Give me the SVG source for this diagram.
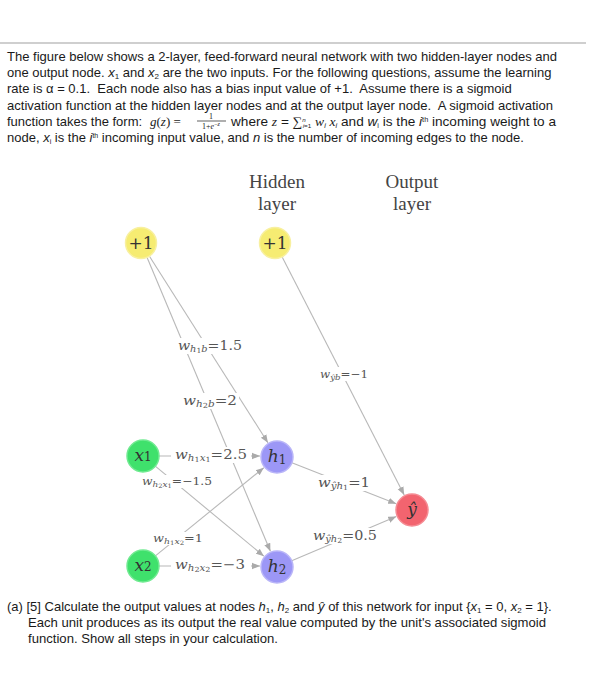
<svg xmlns="http://www.w3.org/2000/svg" width="614" height="700" viewBox="0 0 614 700">
<style>
.body{font-family:"Liberation Sans",Arial,sans-serif;font-size:13px;fill:#1a1a1a;white-space:pre}
.it{font-style:italic}
.sub{font-size:8px}
.ttl{font-family:"Liberation Serif","DejaVu Serif",serif;font-size:19px;fill:#444;text-anchor:middle}
.edge{stroke:#b8b8b8;stroke-width:1.1;fill:none;marker-end:url(#arr)}
.lbl{font-family:"DejaVu Serif","Liberation Serif",serif;font-size:13px;fill:#555;text-anchor:middle}
.lbs{font-family:"DejaVu Serif","Liberation Serif",serif;font-size:11px;fill:#555;text-anchor:middle}
.bg{fill:#ffffff}
.nt{font-family:"DejaVu Serif","Liberation Serif",serif;font-size:17px;fill:#333;text-anchor:middle}
.bias{fill:#f6ec72;stroke:#f8f0a0;stroke-width:1.5}
.inp{fill:#3fe16c;stroke:#70ea91;stroke-width:1.5}
.hid{fill:#9c97f6;stroke:#b9b5f8;stroke-width:1.5}
.out{fill:#f2646f;stroke:#f58b93;stroke-width:1.5}
</style>
<defs>
<marker id="arr" markerUnits="userSpaceOnUse" markerWidth="8" markerHeight="8" viewBox="0 0 8 8" refX="8" refY="4" orient="auto">
<path d="M0,0.8 L8,4 L0,7.2 Z" fill="#aaaaaa"/>
</marker>
</defs>
<rect width="614" height="700" fill="#ffffff"/>
<line x1="0" y1="43" x2="586" y2="43" stroke="#cfcfcf" stroke-width="2"/>

<g id="intro-text">
<text class="body" x="7" y="61" textLength="550" lengthAdjust="spacingAndGlyphs">The figure below shows a 2-layer, feed-forward neural network with two hidden-layer nodes and</text>
<text class="body" x="7" y="77">one output node. <tspan class="it">x</tspan><tspan class="sub" dy="2">1</tspan><tspan dy="-2"> and </tspan><tspan class="it">x</tspan><tspan class="sub" dy="2">2</tspan><tspan dy="-2"> are the two inputs. For the following questions, assume the learning</tspan></text>
<text class="body" x="7" y="93">rate is α = 0.1.  Each node also has a bias input value of +1.  Assume there is a sigmoid</text>
<text class="body" x="7" y="110" textLength="546" lengthAdjust="spacingAndGlyphs">activation function at the hidden layer nodes and at the output layer node.  A sigmoid activation</text>
<text class="body" x="7" y="126">function takes the form: </text>
<text x="150" y="126" font-family="Liberation Serif,serif" font-size="13" font-style="italic" fill="#1a1a1a">g<tspan font-style="normal">(</tspan>z<tspan font-style="normal">) =</tspan></text>
<text x="211" y="119" font-family="Liberation Serif,serif" font-size="8" fill="#1a1a1a" text-anchor="middle">1</text>
<line x1="197" y1="121" x2="226" y2="121" stroke="#1a1a1a" stroke-width="0.7"/>
<text x="211" y="129" font-family="Liberation Serif,serif" font-size="8" fill="#1a1a1a" text-anchor="middle">1+<tspan font-style="italic">e</tspan><tspan font-size="6" dy="-3">−<tspan font-style="italic">z</tspan></tspan></text>
<text class="body" x="231" y="126" textLength="325" lengthAdjust="spacingAndGlyphs">where <tspan font-family="Liberation Serif,serif" font-style="italic">z</tspan> = <tspan font-family="Liberation Serif,serif">∑</tspan><tspan font-size="6" dy="-4" font-style="italic">n</tspan><tspan font-size="6" dx="-3" dy="6"><tspan font-style="italic">i</tspan>=1</tspan><tspan dy="-2"> </tspan><tspan font-family="Liberation Serif,serif" font-style="italic">w</tspan><tspan font-size="7" dy="2" font-style="italic">i</tspan><tspan dy="-2"> </tspan><tspan font-family="Liberation Serif,serif" font-style="italic">x</tspan><tspan font-size="7" dy="2" font-style="italic">i</tspan><tspan dy="-2"> and </tspan><tspan class="it">w</tspan><tspan font-size="7" dy="2">i</tspan><tspan dy="-2"> is the </tspan><tspan class="it">i</tspan><tspan font-size="7" dy="-4">th</tspan><tspan dy="4"> incoming weight to a</tspan></text>
<text class="body" x="7" y="142">node, <tspan class="it">x</tspan><tspan font-size="7" dy="2">i</tspan><tspan dy="-2"> is the </tspan><tspan class="it">i</tspan><tspan font-size="7" dy="-4">th</tspan><tspan dy="4"> incoming input value, and </tspan><tspan class="it">n</tspan> is the number of incoming edges to the node.</text>
</g>

<g id="layer-titles">
<text class="ttl" x="277" y="188">Hidden</text>
<text class="ttl" x="277" y="210">layer</text>
<text class="ttl" x="412" y="188">Output</text>
<text class="ttl" x="412" y="210">layer</text>
</g>

<g id="connectors">
<line class="edge" x1="149.6" y1="256.5" x2="267.9" y2="442.7"/>
<line class="edge" x1="147.2" y1="257.8" x2="270.4" y2="551.3"/>
<line class="edge" x1="282.3" y1="257.2" x2="404.2" y2="494.9"/>
<line class="edge" x1="159" y1="456" x2="260" y2="456"/>
<line class="edge" x1="155.3" y1="466.2" x2="263.9" y2="556.2"/>
<line class="edge" x1="155.4" y1="555.9" x2="263.8" y2="467.7"/>
<line class="edge" x1="159" y1="566" x2="260" y2="566"/>
<line class="edge" x1="291.9" y1="462.8" x2="396.2" y2="503.8"/>
<line class="edge" x1="291.7" y1="560.8" x2="396.3" y2="516.6"/>
</g>

<g id="edge-labels">
<rect class="bg" x="176" y="338" width="68" height="16"/>
<text class="lbl" x="210" y="350" textLength="64" lengthAdjust="spacingAndGlyphs"><tspan class="it">w</tspan><tspan font-size="9" dy="2" class="it">h</tspan><tspan font-size="7" dy="1">1</tspan><tspan font-size="9" dy="-1" class="it">b</tspan><tspan dy="-2">=1.5</tspan></text>
<rect class="bg" x="181" y="393" width="58" height="16"/>
<text class="lbl" x="210" y="405" textLength="54" lengthAdjust="spacingAndGlyphs"><tspan class="it">w</tspan><tspan font-size="9" dy="2" class="it">h</tspan><tspan font-size="7" dy="1">2</tspan><tspan font-size="9" dy="-1" class="it">b</tspan><tspan dy="-2">=2</tspan></text>
<rect class="bg" x="318" y="367" width="52" height="14"/>
<text class="lbs" x="344" y="378" textLength="48" lengthAdjust="spacingAndGlyphs"><tspan class="it">w</tspan><tspan font-size="8" dy="2" class="it">ŷb</tspan><tspan dy="-2">=−1</tspan></text>
<rect class="bg" x="171" y="447" width="80" height="16"/>
<text class="lbl" x="211" y="459" textLength="72" lengthAdjust="spacingAndGlyphs"><tspan class="it">w</tspan><tspan font-size="9" dy="2" class="it">h</tspan><tspan font-size="7" dy="1">1</tspan><tspan font-size="9" dy="-1" class="it">x</tspan><tspan font-size="7" dy="1">1</tspan><tspan dy="-3">=2.5</tspan></text>
<rect class="bg" x="141" y="475" width="73" height="13"/>
<text class="lbs" x="177" y="485" textLength="70" lengthAdjust="spacingAndGlyphs"><tspan class="it">w</tspan><tspan font-size="8" dy="2" class="it">h</tspan><tspan font-size="6" dy="1">2</tspan><tspan font-size="8" dy="-1" class="it">x</tspan><tspan font-size="6" dy="1">1</tspan><tspan dy="-3">=−1.5</tspan></text>
<rect class="bg" x="316" y="475" width="56" height="16"/>
<text class="lbl" x="344" y="487" textLength="52" lengthAdjust="spacingAndGlyphs"><tspan class="it">w</tspan><tspan font-size="9" dy="2" class="it">ŷh</tspan><tspan font-size="7" dy="1">1</tspan><tspan dy="-3">=1</tspan></text>
<rect class="bg" x="151" y="532" width="54" height="13"/>
<text class="lbs" x="178" y="542" textLength="50" lengthAdjust="spacingAndGlyphs"><tspan class="it">w</tspan><tspan font-size="8" dy="2" class="it">h</tspan><tspan font-size="6" dy="1">1</tspan><tspan font-size="8" dy="-1" class="it">x</tspan><tspan font-size="6" dy="1">2</tspan><tspan dy="-3">=1</tspan></text>
<rect class="bg" x="311" y="528" width="68" height="16"/>
<text class="lbl" x="345" y="540" textLength="64" lengthAdjust="spacingAndGlyphs"><tspan class="it">w</tspan><tspan font-size="9" dy="2" class="it">ŷh</tspan><tspan font-size="7" dy="1">2</tspan><tspan dy="-3">=0.5</tspan></text>
<rect class="bg" x="171" y="557" width="80" height="16"/>
<text class="lbl" x="210" y="569" textLength="70" lengthAdjust="spacingAndGlyphs"><tspan class="it">w</tspan><tspan font-size="9" dy="2" class="it">h</tspan><tspan font-size="7" dy="1">2</tspan><tspan font-size="9" dy="-1" class="it">x</tspan><tspan font-size="7" dy="1">2</tspan><tspan dy="-3">=−3</tspan></text>
</g>

<g id="node-bias-input">
<circle class="bias" cx="141" cy="243" r="15.5"/>
<text class="nt" x="141" y="249">+1</text>
</g>
<g id="node-bias-hidden">
<circle class="bias" cx="275" cy="243" r="15.5"/>
<text class="nt" x="275" y="249">+1</text>
</g>
<g id="node-x1">
<circle class="inp" cx="143" cy="456" r="16"/>
<text class="nt" x="143" y="461"><tspan class="it">x</tspan><tspan font-size="12">1</tspan></text>
</g>
<g id="node-x2">
<circle class="inp" cx="143" cy="566" r="16"/>
<text class="nt" x="143" y="571"><tspan class="it">x</tspan><tspan font-size="12">2</tspan></text>
</g>
<g id="node-h1">
<circle class="hid" cx="277" cy="457" r="16"/>
<text class="nt" x="277" y="462"><tspan class="it">h</tspan><tspan font-size="12" dy="2">1</tspan></text>
</g>
<g id="node-h2">
<circle class="hid" cx="277" cy="567" r="16"/>
<text class="nt" x="277" y="572"><tspan class="it">h</tspan><tspan font-size="12" dy="2">2</tspan></text>
</g>
<g id="node-yhat">
<circle class="out" cx="412" cy="510" r="16"/>
<text class="nt" x="412" y="515" font-style="italic" font-size="15" fill="#8a2a30">ŷ</text>
</g>

<g id="question-text">
<text class="body" x="7" y="611">(a) [5] Calculate the output values at nodes <tspan class="it">h</tspan><tspan class="sub" dy="2">1</tspan><tspan dy="-2">, </tspan><tspan class="it">h</tspan><tspan class="sub" dy="2">2</tspan><tspan dy="-2"> and </tspan><tspan class="it">ŷ</tspan> of this network for input {<tspan class="it">x</tspan><tspan class="sub" dy="2">1</tspan><tspan dy="-2"> = 0, </tspan><tspan class="it">x</tspan><tspan class="sub" dy="2">2</tspan><tspan dy="-2"> = 1}.</tspan></text>
<text class="body" x="28" y="627" textLength="518" lengthAdjust="spacingAndGlyphs">Each unit produces as its output the real value computed by the unit's associated sigmoid</text>
<text class="body" x="28" y="643" textLength="250" lengthAdjust="spacingAndGlyphs">function. Show all steps in your calculation.</text>
</g>
</svg>
